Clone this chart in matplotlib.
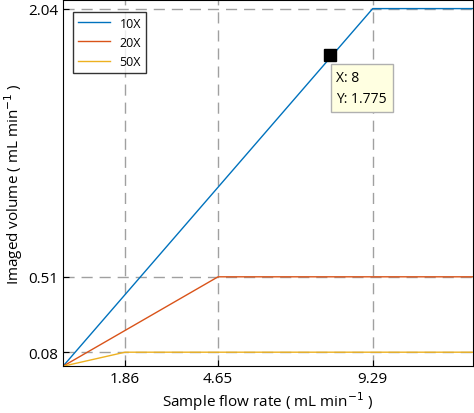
import matplotlib
matplotlib.use("Agg")
import matplotlib.pyplot as plt

x10 = [0, 9.29, 12.3]; y10 = [0, 2.04, 2.04]
x20 = [0, 4.65, 12.3]; y20 = [0, 0.51, 0.51]
x50 = [0, 1.86, 12.3]; y50 = [0, 0.08, 0.08]
xticks = [1.86, 4.65, 9.29]
yticks = [0.08, 0.51, 2.04]
tip = (8, 1.775)

plt.rcParams['font.family'] = ['Open Sans', 'DejaVu Sans']
fig = plt.figure(figsize=(4.74, 4.14), dpi=100)
ax = fig.add_axes([0.133, 0.113, 0.865, 0.885])
ax.plot(x10, y10, color='#0072BD', lw=1, label='10X')
ax.plot(x20, y20, color='#D95319', lw=1, label='20X')
ax.plot(x50, y50, color='#EDB120', lw=1, label='50X')
ax.set_xlim(0, 12.3); ax.set_ylim(0, 2.09)
ax.set_xticks(xticks); ax.set_xticklabels([str(v) for v in xticks])
ax.set_yticks(yticks); ax.set_yticklabels([f'{v:.2f}' for v in yticks])
ax.grid(True, ls=(0, (8, 5)), color='#a0a0a0', lw=1)
ax.tick_params(labelsize=11, direction='in', length=4)
ax.set_xlabel('Sample flow rate ( mL min$^{-1}$ )', fontsize=11, labelpad=2)
ax.set_ylabel('Imaged volume ( mL min$^{-1}$ )', fontsize=11, labelpad=2)
ax.legend(loc='upper left', fontsize=9, frameon=True, fancybox=False, edgecolor='black',
          bbox_to_anchor=(0.01, 0.985), handlelength=2.5)
ax.plot([tip[0]], [tip[1]], 's', color='black', ms=8)
ax.annotate(f'X: {tip[0]}\nY: {tip[1]}', xy=tip, xytext=(tip[0]+0.2, tip[1]-0.27),
            fontsize=10, linespacing=1.6,
            bbox=dict(boxstyle='square,pad=0.4', fc='#ffffe1', ec='#b0b0b0'))
fig.savefig('out.png', dpi=100)
